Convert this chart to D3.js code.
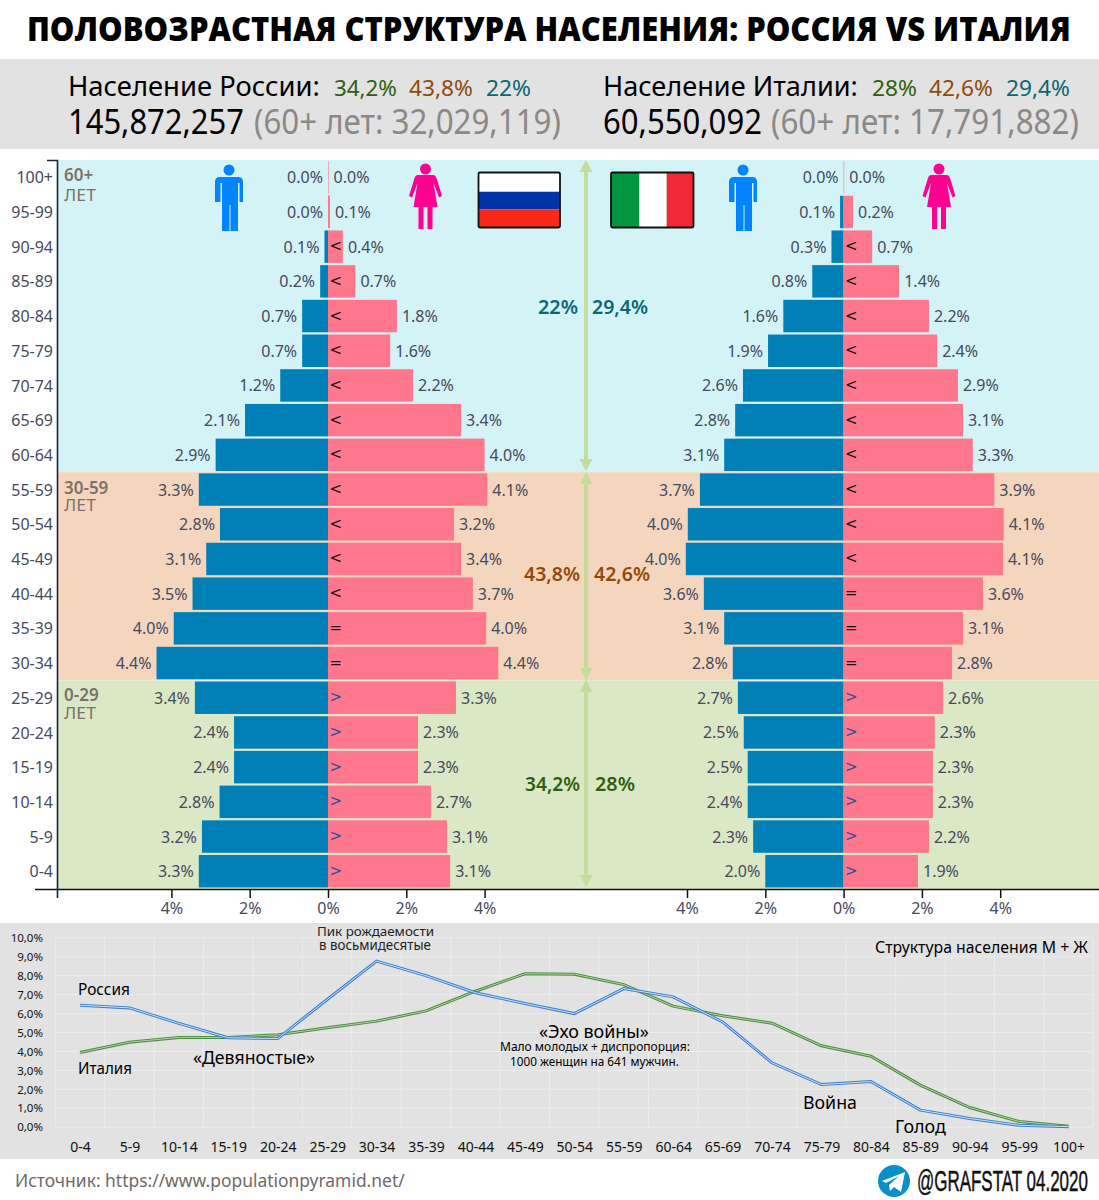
<!DOCTYPE html>
<html><head><meta charset="utf-8">
<script src="https://cdn.jsdelivr.net/npm/d3@7/dist/d3.min.js"></script>
<style>html,body{margin:0;padding:0;background:#fff}svg{display:block}text{font-family:"Noto Sans",sans-serif}</style>
</head><body><svg id="c" width="1099" height="1200"></svg>
<script>
const ages=["100+","95-99","90-94","85-89","80-84","75-79","70-74","65-69","60-64","55-59","50-54","45-49","40-44","35-39","30-34","25-29","20-24","15-19","10-14","5-9","0-4"];
const ruMale=[0,0,0.09,0.2,0.66,0.66,1.22,2.12,2.87,3.3,2.76,3.11,3.46,3.94,4.38,3.4,2.4,2.4,2.77,3.22,3.3];
const ruFemale=[0.015,0.05,0.38,0.7,1.76,1.59,2.17,3.4,4.0,4.07,3.22,3.4,3.7,4.04,4.35,3.27,2.3,2.3,2.63,3.04,3.12];
const itMale=[0,0.09,0.31,0.8,1.54,1.93,2.57,2.77,3.05,3.67,3.98,4.03,3.57,3.05,2.83,2.7,2.55,2.45,2.45,2.31,2.0];
const itFemale=[0.015,0.24,0.73,1.42,2.18,2.39,2.92,3.05,3.3,3.85,4.09,4.07,3.56,3.05,2.77,2.54,2.33,2.28,2.28,2.18,1.9];
const ruMaleLabels=["0.0","0.0","0.1","0.2","0.7","0.7","1.2","2.1","2.9","3.3","2.8","3.1","3.5","4.0","4.4","3.4","2.4","2.4","2.8","3.2","3.3"];
const ruFemaleLabels=["0.0","0.1","0.4","0.7","1.8","1.6","2.2","3.4","4.0","4.1","3.2","3.4","3.7","4.0","4.4","3.3","2.3","2.3","2.7","3.1","3.1"];
const itMaleLabels=["0.0","0.1","0.3","0.8","1.6","1.9","2.6","2.8","3.1","3.7","4.0","4.0","3.6","3.1","2.8","2.7","2.5","2.5","2.4","2.3","2.0"];
const itFemaleLabels=["0.0","0.2","0.7","1.4","2.2","2.4","2.9","3.1","3.3","3.9","4.1","4.1","3.6","3.1","2.8","2.6","2.3","2.3","2.3","2.2","1.9"];
const ruSigns=["","","<","<","<","<","<","<","<","<","<","<","<","=","=",">",">",">",">",">",">"];
const itSigns=["","","<","<","<","<","<","<","<","<","<","<","=","=","=",">",">",">",">",">",">"];
const lineAges=ages.slice().reverse();
const ruTotal=[6.44,6.3,5.48,4.72,4.68,6.74,8.77,8.0,7.1,6.53,6.0,7.32,6.88,5.56,3.4,2.25,2.41,0.9,0.46,0.1,0.03];
const itTotal=[3.94,4.49,4.74,4.74,4.88,5.25,5.6,6.14,7.18,8.1,8.08,7.53,6.39,5.88,5.49,4.3,3.75,2.22,1.04,0.3,0.05];
const pctTicks=[0,1,2,3,4,5,6,7,8,9,10];
const axisTicks=[-4,-2,0,2,4];

const svg=d3.select("#c");
function T(x,y,s,o={}){
  const t=svg.append("text").text(s)
   .attr("font-size",o.size||14).attr("fill",o.fill||"#000")
   .attr("text-anchor",o.anchor||"start");
  if(o.weight)t.attr("font-weight",o.weight);
  if(o.family)t.style("font-family",o.family);
  if(o.len){
    const k=o.len/t.node().getComputedTextLength();
    t.attr("transform",`translate(${x},${y}) scale(${k},1)`);
  } else t.attr("x",x).attr("y",y);
  return t;
}
const GREEN="#2f5f10",BROWN="#8f4a0c",TEAL="#0b6675",GRAY="#8b8886",SLATE="#454a5c";
const NUM="'Noto Sans'",NUMSIZE=16;

// title + header
T(27,41,"ПОЛОВОЗРАСТНАЯ СТРУКТУРА НАСЕЛЕНИЯ: РОССИЯ VS ИТАЛИЯ",{size:33,weight:800,len:1044,family:"'Open Sans'"});
svg.append("rect").attr("x",0).attr("y",59).attr("width",1099).attr("height",90).attr("fill","#e2e2e2");
T(68,96,"Население России:",{size:27.5,len:252});
T(334,96,"34,2%",{size:22.5,fill:GREEN,len:63});
T(409,96,"43,8%",{size:22.5,fill:BROWN,len:64});
T(486,96,"22%",{size:22.5,fill:TEAL,len:45});
T(68,134,"145,872,257",{size:34,len:176});
T(254,134,"(60+ лет: 32,029,119)",{size:34,fill:GRAY,len:307});
T(603,96,"Население Италии:",{size:27.5,len:255});
T(872,96,"28%",{size:22.5,fill:GREEN,len:45});
T(929,96,"42,6%",{size:22.5,fill:BROWN,len:64});
T(1006,96,"29,4%",{size:22.5,fill:TEAL,len:64});
T(603,134,"60,550,092",{size:34,len:159});
T(771,134,"(60+ лет: 17,791,882)",{size:34,fill:GRAY,len:308});

// pyramid scales
const y=d3.scaleBand().domain(ages).range([160,888.5]).paddingInner(0.065).paddingOuter(0.03);
const step=y.step();
const bandY=a=>y(a)-(step-y.bandwidth())/2;
// bands
[["100+","55-59","#d3f3f7"],["55-59","25-29","#f4d6bf"],["25-29",null,"#dbe8c5"]].forEach(([a,b,c])=>{
  const y0=bandY(a),y1=b?bandY(b):889;
  svg.append("rect").attr("x",58).attr("y",y0).attr("width",1041).attr("height",y1-y0).attr("fill",c);
});
// arrows
function arrow(y0,y1){
  const c="#c3dd9c",ax=586;
  svg.append("rect").attr("x",ax-2).attr("y",y0+8).attr("width",4).attr("height",y1-y0-16).attr("fill",c);
  svg.append("path").attr("d",`M${ax} ${y0}l6.5 12h-13z`).attr("fill",c);
  svg.append("path").attr("d",`M${ax} ${y1}l6.5 -12h-13z`).attr("fill",c);
}
arrow(160,471);arrow(472,680);arrow(680,887);

function pyramid(cx,male,female,mL,fL,signs){
  const x=d3.scaleLinear().domain([-1,1]).range([cx-39.15,cx+39.15]);
  const g=svg.append("g");
  g.selectAll(".m").data(ages).join("rect")
    .attr("x",(d,i)=>x(-male[i])).attr("y",d=>y(d)).attr("height",y.bandwidth())
    .attr("width",(d,i)=>x(0)-x(-male[i])).attr("fill","#0080b6");
  g.selectAll(".f").data(ages).join("rect")
    .attr("x",x(0)).attr("y",d=>y(d)).attr("height",y.bandwidth())
    .attr("width",(d,i)=>x(female[i])-x(0)).attr("fill","#ff778c");
  g.selectAll(".ml").data(ages).join("text").attr("text-anchor","end")
    .attr("x",(d,i)=>x(-male[i])-5).attr("y",d=>y(d)+y.bandwidth()/2+6)
    .attr("font-size",NUMSIZE).attr("fill",SLATE).style("font-family",NUM).text((d,i)=>mL[i]+"%");
  g.selectAll(".fl").data(ages).join("text")
    .attr("x",(d,i)=>x(female[i])+5).attr("y",d=>y(d)+y.bandwidth()/2+6)
    .attr("font-size",NUMSIZE).attr("fill",SLATE).style("font-family",NUM).text((d,i)=>fL[i]+"%");
  g.selectAll(".s").data(ages).join("text")
    .attr("x",x(0)+1.5).attr("y",d=>y(d)+y.bandwidth()/2+4.5).attr("font-size",15)
    .attr("fill",(d,i)=>signs[i]===">"?"#23509f":"#111").style("font-family","'DejaVu Sans'").text((d,i)=>signs[i]);
  const ax=d3.axisBottom(x).tickValues(axisTicks).tickSize(9).tickPadding(5).tickFormat(d=>Math.abs(d)+"%");
  const a=svg.append("g").attr("transform","translate(0,889)").call(ax);
  a.select(".domain").remove();
  a.selectAll("line").attr("stroke","#111").attr("stroke-width",1.5);
  a.selectAll("text").attr("font-size",NUMSIZE).attr("fill",SLATE).style("font-family",NUM);
}
pyramid(328,ruMale,ruFemale,ruMaleLabels,ruFemaleLabels,ruSigns);
pyramid(843.6,itMale,itFemale,itMaleLabels,itFemaleLabels,itSigns);

// left age axis
const ya=svg.append("g").attr("transform","translate(58,0)").call(d3.axisLeft(y).tickSize(0).tickPadding(5));
ya.select(".domain").remove();
ya.selectAll("text").attr("font-size",NUMSIZE).attr("fill",SLATE).style("font-family",NUM).attr("dy","0.38em");
svg.append("path").attr("d","M47 160.5H57.5V898").attr("fill","none").attr("stroke","#1a2340").attr("stroke-width",1.6);
svg.append("line").attr("x1",35).attr("x2",1099).attr("y1",889.5).attr("y2",889.5).attr("stroke","#111").attr("stroke-width",1.6);

// group labels
[["60+",181,201],["30-59",494,511],["0-29",701,719]].forEach(([s,y0,y1])=>{
  T(64,y0,s,{size:17,weight:600,fill:"#7b736a"});
  T(64,y1,"ЛЕТ",{size:17,fill:"#7b736a",len:32});
});

// mid labels
T(538,314,"22%",{size:20,weight:600,fill:TEAL,len:40});
T(592,314,"29,4%",{size:20,weight:600,fill:TEAL,len:56});
T(524,581,"43,8%",{size:20,weight:600,fill:BROWN,len:56});
T(594,581,"42,6%",{size:20,weight:600,fill:BROWN,len:56});
T(525,791,"34,2%",{size:20,weight:600,fill:GREEN,len:55});
T(595,791,"28%",{size:20,weight:600,fill:GREEN,len:40});

// icons
function man(cx){
  const g=svg.append("g").attr("fill","#0084ff");
  g.append("circle").attr("cx",cx).attr("cy",170).attr("r",5.5);
  g.append("path").attr("d",`M${cx-14} 202V182q0-5 5-5H${cx+9}q5 0 5 5V202h-3.5V183h-1.5V231h-7.5V205h-1V231h-7.5V183h-1.5V202z`);
}
function woman(cx){
  const g=svg.append("g").attr("fill","#ff0090");
  g.append("circle").attr("cx",cx).attr("cy",169).attr("r",5.5);
  g.append("path").attr("d",`M${cx-8} 175H${cx+8}Q${cx+10} 175 ${cx+11} 178L${cx+16.5} 196L${cx+13.5} 197.5L${cx+8} 183L${cx+12} 207H${cx+7}V229H${cx+2}V207H${cx-2}V229H${cx-7}V207H${cx-12}L${cx-8} 183L${cx-13.5} 197.5L${cx-16.5} 196L${cx-11} 178Q${cx-10} 175 ${cx-8} 175z`);
}
man(229);woman(425.5);man(743);woman(939);

// flags
function flag(x0,x1,yy,stripes,vertical){
  const w=x1-x0,h=55;
  stripes.forEach(c=>{
    const [a,b]=c.slice(1);
    if(vertical)svg.append("rect").attr("x",x0+w*a).attr("y",yy).attr("width",w*(b-a)).attr("height",h).attr("fill",c[0]);
    else svg.append("rect").attr("x",x0).attr("y",yy+h*a).attr("width",w).attr("height",h*(b-a)).attr("fill",c[0]);
  });
  svg.append("rect").attr("x",x0).attr("y",yy).attr("width",w).attr("height",h).attr("rx",1.5).attr("fill","none").attr("stroke","#111").attr("stroke-width",1.8);
}
flag(478.5,560,172.5,[["#ffffff",0,.35],["#0033a8",.35,.67],["#f72a17",.67,1]],false);
flag(611,693.5,172.5,[["#01963f",0,.345],["#ffffff",.345,.675],["#f22837",.675,1]],true);

// line chart
svg.append("rect").attr("x",0).attr("y",923).attr("width",1099).attr("height",236).attr("fill","#e2e2e2");
const lx=d3.scalePoint().domain(lineAges).range([80,1068.6]);
const ly=d3.scaleLinear().domain([0,10]).range([1127.2,937.8]);
const ls=lx.step();
svg.append("g").selectAll("line").data(pctTicks).join("line").attr("x1",55.5).attr("x2",1093).attr("y1",d=>ly(d)).attr("y2",d=>ly(d)).attr("stroke","#ececec");
svg.append("g").selectAll("line").data(d3.range(22)).join("line").attr("x1",d=>80-ls/2+d*ls).attr("x2",d=>80-ls/2+d*ls).attr("y1",ly(10)).attr("y2",ly(0)).attr("stroke","#ececec");
const yAx=svg.append("g").attr("transform","translate(43,0)").call(d3.axisLeft(ly).tickValues(pctTicks).tickSize(0).tickPadding(0).tickFormat(d=>d+",0%"));
yAx.select(".domain").remove();
yAx.selectAll("text").attr("font-size",11.5).attr("fill","#111");
const xAx=svg.append("g").attr("transform","translate(0,1142)").call(d3.axisBottom(lx).tickSize(0).tickPadding(0));
xAx.select(".domain").remove();
xAx.selectAll("text").attr("font-size",14).attr("fill","#111");
const line=d3.line().x((d,i)=>lx(lineAges[i])).y(d=>ly(d));
[[itTotal,"#4a8d3e","#b7d0ae"],[ruTotal,"#3b80d2","#cfe0f2"]].forEach(([s,c,c2])=>{
  svg.append("path").attr("d",line(s)).attr("fill","none").attr("stroke",c).attr("stroke-width",3);
  svg.append("path").attr("d",line(s)).attr("fill","none").attr("stroke",c2).attr("stroke-width",1);
});
T(317,936,"Пик рождаемости",{size:13.5,fill:"#222",len:117});
T(319,950,"в восьмидесятые",{size:13.5,fill:"#222",len:112});
T(78,995,"Россия",{size:16,len:52});
T(78,1074,"Италия",{size:16,len:54});
T(193,1064,"«Девяностые»",{size:19,len:122});
T(539,1038,"«Эхо войны»",{size:19,len:110});
T(500,1051,"Мало молодых + диспропорция:",{size:12,len:190});
T(510,1066,"1000 женщин на 641 мужчин.",{size:12,len:169});
T(803,1109,"Война",{size:19,len:54});
T(895,1133,"Голод",{size:18,len:51});
T(875,953,"Структура населения М + Ж",{size:16,len:213});

// footer
T(15,1187,"Источник: https://www.populationpyramid.net/",{size:19,fill:"#6e6a68",len:390});
svg.append("circle").attr("cx",894).attr("cy",1181).attr("r",16).attr("fill","#0a8fcb");
svg.append("path").attr("d","M882 1181L905 1172L901 1192L894 1187L890 1191L889 1185L899 1176L886 1183z").attr("fill","#fff");
T(917,1191,"@GRAFSTAT 04.2020",{size:29,len:171,fill:"#111",family:"'Liberation Sans Narrow','Liberation Sans'"}).attr("stroke","#111").attr("stroke-width",0.5);
</script></body></html>
